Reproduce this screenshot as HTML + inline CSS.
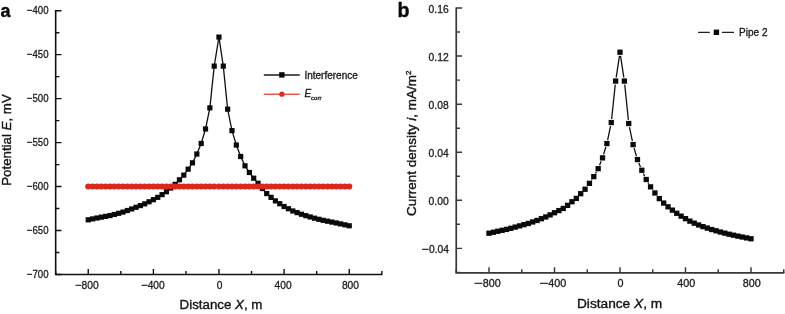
<!DOCTYPE html>
<html><head><meta charset="utf-8"><title>Figure</title>
<style>
html,body{margin:0;padding:0;background:#fff;}
svg{display:block;font-family:"Liberation Sans",Arial,sans-serif;filter:blur(0.32px);}
.tk{font-size:11px;fill:#1c1c1c;stroke:#1c1c1c;stroke-width:0.3px;}
.ax{font-size:12px;fill:#141414;stroke:#141414;stroke-width:0.38px;}
.lg{font-size:10px;fill:#161616;stroke:#161616;stroke-width:0.3px;}
.pl{font-size:18px;font-weight:bold;fill:#080808;stroke:#080808;stroke-width:0.35px;}
</style></head><body>
<svg width="785" height="314" viewBox="0 0 785 314">
<rect width="785" height="314" fill="#fff"/>

<path d="M55.67 10.10V274.50H382.43" fill="none" stroke="#111" stroke-width="1.6"/>
<path d="M55.67 10.70h5.8M55.67 54.67h5.8M55.67 98.63h5.8M55.67 142.60h5.8M55.67 186.57h5.8M55.67 230.53h5.8M55.67 274.50h5.8M55.67 32.68h3.7M55.67 76.65h3.7M55.67 120.62h3.7M55.67 164.58h3.7M55.67 208.55h3.7M55.67 252.52h3.7M88.25 274.50v-5.6M153.40 274.50v-5.6M218.95 274.50v-5.6M284.10 274.50v-5.6M349.25 274.50v-5.6M55.67 274.50v-3.6M120.82 274.50v-3.6M185.97 274.50v-3.6M251.52 274.50v-3.6M316.68 274.50v-3.6M381.83 274.50v-3.6" fill="none" stroke="#111" stroke-width="1.4"/>
<text class="tk" transform="translate(26.87 13.70) scale(0.875 1)"><tspan textLength="6.40" lengthAdjust="spacingAndGlyphs">−</tspan>400</text>
<text class="tk" transform="translate(26.87 57.67) scale(0.875 1)"><tspan textLength="6.40" lengthAdjust="spacingAndGlyphs">−</tspan>450</text>
<text class="tk" transform="translate(26.87 101.63) scale(0.875 1)"><tspan textLength="6.40" lengthAdjust="spacingAndGlyphs">−</tspan>500</text>
<text class="tk" transform="translate(26.87 145.60) scale(0.875 1)"><tspan textLength="6.40" lengthAdjust="spacingAndGlyphs">−</tspan>550</text>
<text class="tk" transform="translate(26.87 189.57) scale(0.875 1)"><tspan textLength="6.40" lengthAdjust="spacingAndGlyphs">−</tspan>600</text>
<text class="tk" transform="translate(26.87 233.53) scale(0.875 1)"><tspan textLength="6.40" lengthAdjust="spacingAndGlyphs">−</tspan>650</text>
<text class="tk" transform="translate(26.87 277.50) scale(0.875 1)"><tspan textLength="6.40" lengthAdjust="spacingAndGlyphs">−</tspan>700</text>
<text class="tk" transform="translate(75.17 288.70) scale(0.93 1)"><tspan textLength="6.92" lengthAdjust="spacingAndGlyphs">−</tspan>800</text>
<text class="tk" transform="translate(141.22 288.70) scale(0.93 1)"><tspan textLength="6.92" lengthAdjust="spacingAndGlyphs">−</tspan>400</text>
<text class="tk" transform="translate(216.71 288.70) scale(0.93 1)">0</text>
<text class="tk" transform="translate(274.57 288.70) scale(0.93 1)">400</text>
<text class="tk" transform="translate(341.92 288.70) scale(0.93 1)">800</text>
<path d="M456.25 7.40V272.90H784.35" fill="none" stroke="#383838" stroke-width="1.7"/>
<path d="M456.25 8.00h5.8M456.25 56.08h5.8M456.25 104.15h5.8M456.25 152.23h5.8M456.25 200.30h5.8M456.25 248.38h5.8M456.25 32.04h3.7M456.25 80.11h3.7M456.25 128.19h3.7M456.25 176.26h3.7M456.25 224.34h3.7M456.25 272.41h3.7M489.00 272.90v-5.6M554.50 272.90v-5.6M620.00 272.90v-5.6M685.50 272.90v-5.6M751.00 272.90v-5.6M456.25 272.90v-3.6M521.75 272.90v-3.6M587.25 272.90v-3.6M652.75 272.90v-3.6M718.25 272.90v-3.6M783.75 272.90v-3.6" fill="none" stroke="#383838" stroke-width="1.45"/>
<text class="tk" transform="translate(428.53 12.50) scale(0.94 1)">0.16</text>
<text class="tk" transform="translate(428.53 60.58) scale(0.94 1)">0.12</text>
<text class="tk" transform="translate(428.53 108.65) scale(0.94 1)">0.08</text>
<text class="tk" transform="translate(428.53 156.73) scale(0.94 1)">0.04</text>
<text class="tk" transform="translate(428.53 204.80) scale(0.94 1)">0.00</text>
<text class="tk" transform="translate(421.85 252.88) scale(0.94 1)"><tspan textLength="7.61" lengthAdjust="spacingAndGlyphs">−</tspan>0.04</text>
<text class="tk" transform="translate(473.91 287.10) scale(0.98 1)"><tspan textLength="9.00" lengthAdjust="spacingAndGlyphs">−</tspan>800</text>
<text class="tk" transform="translate(539.41 287.10) scale(0.98 1)"><tspan textLength="9.00" lengthAdjust="spacingAndGlyphs">−</tspan>400</text>
<text class="tk" transform="translate(617.40 287.10) scale(0.98 1)">0</text>
<text class="tk" transform="translate(677.31 287.10) scale(0.98 1)">400</text>
<text class="tk" transform="translate(742.81 287.10) scale(0.98 1)">800</text>
<polyline points="88.25,219.81 92.59,218.91 96.94,218.02 101.28,217.18 105.62,216.38 109.97,215.57 114.31,214.45 118.65,213.32 123.00,212.06 127.34,210.51 131.68,208.97 136.03,207.30 140.37,205.59 144.71,203.85 149.06,201.77 153.40,199.69 157.74,197.34 162.09,194.64 166.43,191.72 170.77,188.04 175.12,184.37 179.46,179.80 183.80,175.14 188.15,169.16 192.49,162.82 196.83,154.03 201.18,143.48 205.52,128.97 209.86,107.87 214.21,66.10 218.95,37.08 223.29,66.10 227.64,109.19 231.98,130.64 236.32,145.06 240.67,156.49 245.01,165.81 249.35,172.50 253.70,178.21 258.04,183.31 262.38,188.51 266.73,193.58 271.07,197.37 275.41,200.86 279.76,203.72 284.10,206.51 288.44,208.74 292.79,210.96 297.13,212.63 301.47,214.26 305.82,215.66 310.16,216.97 314.50,218.18 318.85,219.29 323.19,220.33 327.53,221.21 331.88,222.09 336.22,222.98 340.56,223.86 344.91,224.82 349.25,225.78" fill="none" stroke="#111" stroke-width="1.3"/>
<rect x="85.65" y="217.21" width="5.2" height="5.2" fill="#0a0a0a"/>
<rect x="89.99" y="216.31" width="5.2" height="5.2" fill="#0a0a0a"/>
<rect x="94.34" y="215.42" width="5.2" height="5.2" fill="#0a0a0a"/>
<rect x="98.68" y="214.58" width="5.2" height="5.2" fill="#0a0a0a"/>
<rect x="103.02" y="213.78" width="5.2" height="5.2" fill="#0a0a0a"/>
<rect x="107.37" y="212.97" width="5.2" height="5.2" fill="#0a0a0a"/>
<rect x="111.71" y="211.85" width="5.2" height="5.2" fill="#0a0a0a"/>
<rect x="116.05" y="210.72" width="5.2" height="5.2" fill="#0a0a0a"/>
<rect x="120.40" y="209.46" width="5.2" height="5.2" fill="#0a0a0a"/>
<rect x="124.74" y="207.91" width="5.2" height="5.2" fill="#0a0a0a"/>
<rect x="129.08" y="206.37" width="5.2" height="5.2" fill="#0a0a0a"/>
<rect x="133.43" y="204.70" width="5.2" height="5.2" fill="#0a0a0a"/>
<rect x="137.77" y="202.99" width="5.2" height="5.2" fill="#0a0a0a"/>
<rect x="142.11" y="201.25" width="5.2" height="5.2" fill="#0a0a0a"/>
<rect x="146.46" y="199.17" width="5.2" height="5.2" fill="#0a0a0a"/>
<rect x="150.80" y="197.09" width="5.2" height="5.2" fill="#0a0a0a"/>
<rect x="155.14" y="194.74" width="5.2" height="5.2" fill="#0a0a0a"/>
<rect x="159.49" y="192.04" width="5.2" height="5.2" fill="#0a0a0a"/>
<rect x="163.83" y="189.12" width="5.2" height="5.2" fill="#0a0a0a"/>
<rect x="168.17" y="185.44" width="5.2" height="5.2" fill="#0a0a0a"/>
<rect x="172.52" y="181.77" width="5.2" height="5.2" fill="#0a0a0a"/>
<rect x="176.86" y="177.20" width="5.2" height="5.2" fill="#0a0a0a"/>
<rect x="181.20" y="172.54" width="5.2" height="5.2" fill="#0a0a0a"/>
<rect x="185.55" y="166.56" width="5.2" height="5.2" fill="#0a0a0a"/>
<rect x="189.89" y="160.22" width="5.2" height="5.2" fill="#0a0a0a"/>
<rect x="194.23" y="151.43" width="5.2" height="5.2" fill="#0a0a0a"/>
<rect x="198.58" y="140.88" width="5.2" height="5.2" fill="#0a0a0a"/>
<rect x="202.92" y="126.37" width="5.2" height="5.2" fill="#0a0a0a"/>
<rect x="207.26" y="105.27" width="5.2" height="5.2" fill="#0a0a0a"/>
<rect x="211.61" y="63.50" width="5.2" height="5.2" fill="#0a0a0a"/>
<rect x="216.35" y="34.48" width="5.2" height="5.2" fill="#0a0a0a"/>
<rect x="220.69" y="63.50" width="5.2" height="5.2" fill="#0a0a0a"/>
<rect x="225.04" y="106.59" width="5.2" height="5.2" fill="#0a0a0a"/>
<rect x="229.38" y="128.04" width="5.2" height="5.2" fill="#0a0a0a"/>
<rect x="233.72" y="142.46" width="5.2" height="5.2" fill="#0a0a0a"/>
<rect x="238.07" y="153.89" width="5.2" height="5.2" fill="#0a0a0a"/>
<rect x="242.41" y="163.21" width="5.2" height="5.2" fill="#0a0a0a"/>
<rect x="246.75" y="169.90" width="5.2" height="5.2" fill="#0a0a0a"/>
<rect x="251.10" y="175.61" width="5.2" height="5.2" fill="#0a0a0a"/>
<rect x="255.44" y="180.71" width="5.2" height="5.2" fill="#0a0a0a"/>
<rect x="259.78" y="185.91" width="5.2" height="5.2" fill="#0a0a0a"/>
<rect x="264.13" y="190.98" width="5.2" height="5.2" fill="#0a0a0a"/>
<rect x="268.47" y="194.77" width="5.2" height="5.2" fill="#0a0a0a"/>
<rect x="272.81" y="198.26" width="5.2" height="5.2" fill="#0a0a0a"/>
<rect x="277.16" y="201.12" width="5.2" height="5.2" fill="#0a0a0a"/>
<rect x="281.50" y="203.91" width="5.2" height="5.2" fill="#0a0a0a"/>
<rect x="285.84" y="206.14" width="5.2" height="5.2" fill="#0a0a0a"/>
<rect x="290.19" y="208.36" width="5.2" height="5.2" fill="#0a0a0a"/>
<rect x="294.53" y="210.03" width="5.2" height="5.2" fill="#0a0a0a"/>
<rect x="298.87" y="211.66" width="5.2" height="5.2" fill="#0a0a0a"/>
<rect x="303.22" y="213.06" width="5.2" height="5.2" fill="#0a0a0a"/>
<rect x="307.56" y="214.37" width="5.2" height="5.2" fill="#0a0a0a"/>
<rect x="311.90" y="215.58" width="5.2" height="5.2" fill="#0a0a0a"/>
<rect x="316.25" y="216.69" width="5.2" height="5.2" fill="#0a0a0a"/>
<rect x="320.59" y="217.73" width="5.2" height="5.2" fill="#0a0a0a"/>
<rect x="324.93" y="218.61" width="5.2" height="5.2" fill="#0a0a0a"/>
<rect x="329.28" y="219.49" width="5.2" height="5.2" fill="#0a0a0a"/>
<rect x="333.62" y="220.38" width="5.2" height="5.2" fill="#0a0a0a"/>
<rect x="337.96" y="221.26" width="5.2" height="5.2" fill="#0a0a0a"/>
<rect x="342.31" y="222.22" width="5.2" height="5.2" fill="#0a0a0a"/>
<rect x="346.65" y="223.18" width="5.2" height="5.2" fill="#0a0a0a"/>
<path d="M88.25 186.57H349.25" stroke="#e8524a" stroke-width="1"/>
<circle cx="88.25" cy="186.57" r="3.05" fill="#dc261d"/>
<circle cx="92.59" cy="186.57" r="3.05" fill="#dc261d"/>
<circle cx="96.94" cy="186.57" r="3.05" fill="#dc261d"/>
<circle cx="101.28" cy="186.57" r="3.05" fill="#dc261d"/>
<circle cx="105.62" cy="186.57" r="3.05" fill="#dc261d"/>
<circle cx="109.97" cy="186.57" r="3.05" fill="#dc261d"/>
<circle cx="114.31" cy="186.57" r="3.05" fill="#dc261d"/>
<circle cx="118.65" cy="186.57" r="3.05" fill="#dc261d"/>
<circle cx="123.00" cy="186.57" r="3.05" fill="#dc261d"/>
<circle cx="127.34" cy="186.57" r="3.05" fill="#dc261d"/>
<circle cx="131.68" cy="186.57" r="3.05" fill="#dc261d"/>
<circle cx="136.03" cy="186.57" r="3.05" fill="#dc261d"/>
<circle cx="140.37" cy="186.57" r="3.05" fill="#dc261d"/>
<circle cx="144.71" cy="186.57" r="3.05" fill="#dc261d"/>
<circle cx="149.06" cy="186.57" r="3.05" fill="#dc261d"/>
<circle cx="153.40" cy="186.57" r="3.05" fill="#dc261d"/>
<circle cx="157.74" cy="186.57" r="3.05" fill="#dc261d"/>
<circle cx="162.09" cy="186.57" r="3.05" fill="#dc261d"/>
<circle cx="166.43" cy="186.57" r="3.05" fill="#dc261d"/>
<circle cx="170.77" cy="186.57" r="3.05" fill="#dc261d"/>
<circle cx="175.12" cy="186.57" r="3.05" fill="#dc261d"/>
<circle cx="179.46" cy="186.57" r="3.05" fill="#dc261d"/>
<circle cx="183.80" cy="186.57" r="3.05" fill="#dc261d"/>
<circle cx="188.15" cy="186.57" r="3.05" fill="#dc261d"/>
<circle cx="192.49" cy="186.57" r="3.05" fill="#dc261d"/>
<circle cx="196.83" cy="186.57" r="3.05" fill="#dc261d"/>
<circle cx="201.18" cy="186.57" r="3.05" fill="#dc261d"/>
<circle cx="205.52" cy="186.57" r="3.05" fill="#dc261d"/>
<circle cx="209.86" cy="186.57" r="3.05" fill="#dc261d"/>
<circle cx="214.21" cy="186.57" r="3.05" fill="#dc261d"/>
<circle cx="218.95" cy="186.57" r="3.05" fill="#dc261d"/>
<circle cx="223.29" cy="186.57" r="3.05" fill="#dc261d"/>
<circle cx="227.64" cy="186.57" r="3.05" fill="#dc261d"/>
<circle cx="231.98" cy="186.57" r="3.05" fill="#dc261d"/>
<circle cx="236.32" cy="186.57" r="3.05" fill="#dc261d"/>
<circle cx="240.67" cy="186.57" r="3.05" fill="#dc261d"/>
<circle cx="245.01" cy="186.57" r="3.05" fill="#dc261d"/>
<circle cx="249.35" cy="186.57" r="3.05" fill="#dc261d"/>
<circle cx="253.70" cy="186.57" r="3.05" fill="#dc261d"/>
<circle cx="258.04" cy="186.57" r="3.05" fill="#dc261d"/>
<circle cx="262.38" cy="186.57" r="3.05" fill="#dc261d"/>
<circle cx="266.73" cy="186.57" r="3.05" fill="#dc261d"/>
<circle cx="271.07" cy="186.57" r="3.05" fill="#dc261d"/>
<circle cx="275.41" cy="186.57" r="3.05" fill="#dc261d"/>
<circle cx="279.76" cy="186.57" r="3.05" fill="#dc261d"/>
<circle cx="284.10" cy="186.57" r="3.05" fill="#dc261d"/>
<circle cx="288.44" cy="186.57" r="3.05" fill="#dc261d"/>
<circle cx="292.79" cy="186.57" r="3.05" fill="#dc261d"/>
<circle cx="297.13" cy="186.57" r="3.05" fill="#dc261d"/>
<circle cx="301.47" cy="186.57" r="3.05" fill="#dc261d"/>
<circle cx="305.82" cy="186.57" r="3.05" fill="#dc261d"/>
<circle cx="310.16" cy="186.57" r="3.05" fill="#dc261d"/>
<circle cx="314.50" cy="186.57" r="3.05" fill="#dc261d"/>
<circle cx="318.85" cy="186.57" r="3.05" fill="#dc261d"/>
<circle cx="323.19" cy="186.57" r="3.05" fill="#dc261d"/>
<circle cx="327.53" cy="186.57" r="3.05" fill="#dc261d"/>
<circle cx="331.88" cy="186.57" r="3.05" fill="#dc261d"/>
<circle cx="336.22" cy="186.57" r="3.05" fill="#dc261d"/>
<circle cx="340.56" cy="186.57" r="3.05" fill="#dc261d"/>
<circle cx="344.91" cy="186.57" r="3.05" fill="#dc261d"/>
<circle cx="349.25" cy="186.57" r="3.05" fill="#dc261d"/>
<path d="M587.21 186.35L587.29 186.25M591.39 180.33L591.84 179.64M595.54 173.47L596.43 171.84M599.51 165.35L601.19 161.21M603.58 154.43L605.85 147.01M607.63 140.05L610.53 126.06M611.64 118.96L615.26 84.65M616.17 77.51L619.46 55.79M620.54 55.79L623.83 77.51M624.74 84.66L628.36 119.92M629.46 127.03L632.37 141.13M634.11 148.11L636.45 156.10M638.83 162.89L640.47 166.92M643.37 173.51L644.66 176.25M648.04 182.60L648.72 183.75M652.66 189.77L652.84 190.04" fill="none" stroke="#111" stroke-width="1.3"/>
<rect x="486.35" y="230.58" width="5.3" height="5.3" fill="#0a0a0a"/>
<rect x="490.72" y="229.60" width="5.3" height="5.3" fill="#0a0a0a"/>
<rect x="495.08" y="228.62" width="5.3" height="5.3" fill="#0a0a0a"/>
<rect x="499.45" y="227.67" width="5.3" height="5.3" fill="#0a0a0a"/>
<rect x="503.82" y="226.74" width="5.3" height="5.3" fill="#0a0a0a"/>
<rect x="508.18" y="225.67" width="5.3" height="5.3" fill="#0a0a0a"/>
<rect x="512.55" y="224.45" width="5.3" height="5.3" fill="#0a0a0a"/>
<rect x="516.92" y="223.24" width="5.3" height="5.3" fill="#0a0a0a"/>
<rect x="521.28" y="222.03" width="5.3" height="5.3" fill="#0a0a0a"/>
<rect x="525.65" y="220.80" width="5.3" height="5.3" fill="#0a0a0a"/>
<rect x="530.02" y="219.31" width="5.3" height="5.3" fill="#0a0a0a"/>
<rect x="534.38" y="217.81" width="5.3" height="5.3" fill="#0a0a0a"/>
<rect x="538.75" y="216.06" width="5.3" height="5.3" fill="#0a0a0a"/>
<rect x="543.12" y="214.30" width="5.3" height="5.3" fill="#0a0a0a"/>
<rect x="547.48" y="212.23" width="5.3" height="5.3" fill="#0a0a0a"/>
<rect x="551.85" y="210.08" width="5.3" height="5.3" fill="#0a0a0a"/>
<rect x="556.22" y="207.94" width="5.3" height="5.3" fill="#0a0a0a"/>
<rect x="560.58" y="205.82" width="5.3" height="5.3" fill="#0a0a0a"/>
<rect x="564.95" y="202.70" width="5.3" height="5.3" fill="#0a0a0a"/>
<rect x="569.32" y="199.09" width="5.3" height="5.3" fill="#0a0a0a"/>
<rect x="573.68" y="195.73" width="5.3" height="5.3" fill="#0a0a0a"/>
<rect x="578.05" y="191.04" width="5.3" height="5.3" fill="#0a0a0a"/>
<rect x="582.42" y="186.59" width="5.3" height="5.3" fill="#0a0a0a"/>
<rect x="586.78" y="180.70" width="5.3" height="5.3" fill="#0a0a0a"/>
<rect x="591.15" y="173.97" width="5.3" height="5.3" fill="#0a0a0a"/>
<rect x="595.52" y="166.04" width="5.3" height="5.3" fill="#0a0a0a"/>
<rect x="599.88" y="155.22" width="5.3" height="5.3" fill="#0a0a0a"/>
<rect x="604.25" y="140.92" width="5.3" height="5.3" fill="#0a0a0a"/>
<rect x="608.62" y="119.89" width="5.3" height="5.3" fill="#0a0a0a"/>
<rect x="612.98" y="78.42" width="5.3" height="5.3" fill="#0a0a0a"/>
<rect x="617.35" y="49.58" width="5.3" height="5.3" fill="#0a0a0a"/>
<rect x="621.72" y="78.42" width="5.3" height="5.3" fill="#0a0a0a"/>
<rect x="626.08" y="120.85" width="5.3" height="5.3" fill="#0a0a0a"/>
<rect x="630.45" y="142.00" width="5.3" height="5.3" fill="#0a0a0a"/>
<rect x="634.82" y="156.91" width="5.3" height="5.3" fill="#0a0a0a"/>
<rect x="639.18" y="167.60" width="5.3" height="5.3" fill="#0a0a0a"/>
<rect x="643.55" y="176.86" width="5.3" height="5.3" fill="#0a0a0a"/>
<rect x="647.92" y="184.19" width="5.3" height="5.3" fill="#0a0a0a"/>
<rect x="652.28" y="190.32" width="5.3" height="5.3" fill="#0a0a0a"/>
<rect x="656.65" y="195.97" width="5.3" height="5.3" fill="#0a0a0a"/>
<rect x="661.02" y="200.41" width="5.3" height="5.3" fill="#0a0a0a"/>
<rect x="665.38" y="204.14" width="5.3" height="5.3" fill="#0a0a0a"/>
<rect x="669.75" y="207.51" width="5.3" height="5.3" fill="#0a0a0a"/>
<rect x="674.12" y="210.63" width="5.3" height="5.3" fill="#0a0a0a"/>
<rect x="678.48" y="213.51" width="5.3" height="5.3" fill="#0a0a0a"/>
<rect x="682.85" y="216.01" width="5.3" height="5.3" fill="#0a0a0a"/>
<rect x="687.22" y="218.50" width="5.3" height="5.3" fill="#0a0a0a"/>
<rect x="691.58" y="220.52" width="5.3" height="5.3" fill="#0a0a0a"/>
<rect x="695.95" y="222.31" width="5.3" height="5.3" fill="#0a0a0a"/>
<rect x="700.32" y="223.96" width="5.3" height="5.3" fill="#0a0a0a"/>
<rect x="704.68" y="225.45" width="5.3" height="5.3" fill="#0a0a0a"/>
<rect x="709.05" y="226.88" width="5.3" height="5.3" fill="#0a0a0a"/>
<rect x="713.42" y="228.15" width="5.3" height="5.3" fill="#0a0a0a"/>
<rect x="717.78" y="229.40" width="5.3" height="5.3" fill="#0a0a0a"/>
<rect x="722.15" y="230.49" width="5.3" height="5.3" fill="#0a0a0a"/>
<rect x="726.52" y="231.59" width="5.3" height="5.3" fill="#0a0a0a"/>
<rect x="730.88" y="232.55" width="5.3" height="5.3" fill="#0a0a0a"/>
<rect x="735.25" y="233.49" width="5.3" height="5.3" fill="#0a0a0a"/>
<rect x="739.62" y="234.38" width="5.3" height="5.3" fill="#0a0a0a"/>
<rect x="743.98" y="235.24" width="5.3" height="5.3" fill="#0a0a0a"/>
<rect x="748.35" y="236.11" width="5.3" height="5.3" fill="#0a0a0a"/>
<path d="M263.8 74.9H299.7" stroke="#1a1a1a" stroke-width="1.5"/>
<rect x="279.20" y="72.20" width="5.4" height="5.4" fill="#0a0a0a"/>
<text class="lg" x="304.4" y="78.7">Interference</text>
<path d="M263.8 94.2H299.7" stroke="#e9574f" stroke-width="1.45"/>
<circle cx="281.9" cy="94.2" r="2.6" fill="#de2a22"/>
<text class="lg" x="304.4" y="97.2"><tspan font-style="italic">E</tspan><tspan style="font-size:6px" dy="3">corr</tspan></text>
<path d="M698.1 32.3H709.8M721.9 32.3H734" stroke="#222" stroke-width="1.3"/>
<rect x="713.70" y="29.60" width="5.4" height="5.4" fill="#0a0a0a"/>
<text class="lg" x="739.1" y="36.2">Pipe 2</text>
<text class="ax" x="221" y="309" text-anchor="middle" style="font-size:13.3px">Distance <tspan font-style="italic">X</tspan>, m</text>
<text class="ax" x="619.6" y="307.6" text-anchor="middle" style="font-size:13.7px">Distance <tspan font-style="italic">X</tspan>, m</text>
<text class="ax" transform="translate(11.3 140) rotate(-90)" text-anchor="middle" style="font-size:13.3px">Potential <tspan font-style="italic">E</tspan>, mV</text>
<text class="ax" transform="translate(415.9 143.2) rotate(-90)" text-anchor="middle" style="font-size:13.5px">Current density <tspan font-style="italic">i</tspan>, mA/m<tspan style="font-size:8px" dy="-4.5">2</tspan></text>
<text class="pl" x="0.5" y="16.6">a</text>
<text class="pl" x="397.4" y="17.1" style="font-size:19.6px">b</text>
</svg></body></html>
